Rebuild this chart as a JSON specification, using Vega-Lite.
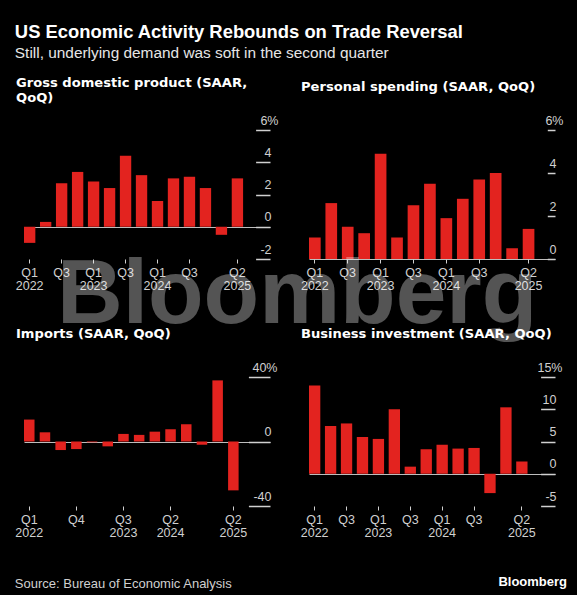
{
  "$schema": "https://vega.github.io/schema/vega-lite/v6.json",
  "background": "#000000",
  "padding": {"left": 14, "top": 23, "right": 10, "bottom": 4},
  "title": {
    "text": "US Economic Activity Rebounds on Trade Reversal",
    "subtitle": "Still, underlying demand was soft in the second quarter",
    "anchor": "start",
    "frame": "bounds",
    "font": "Liberation Sans",
    "fontSize": 18.4,
    "fontWeight": "bold",
    "color": "#ffffff",
    "subtitleFont": "Liberation Sans",
    "subtitleFontSize": 15.4,
    "subtitleColor": "#e6e6e6",
    "subtitlePadding": 4,
    "offset": 16,
    "dx": 0
  },
  "datasets": {
    "gdp": [
      {"q": "Q1 2022", "v": -1.0}, {"q": "Q2 2022", "v": 0.3}, {"q": "Q3 2022", "v": 2.7}, {"q": "Q4 2022", "v": 3.4},
      {"q": "Q1 2023", "v": 2.8}, {"q": "Q2 2023", "v": 2.4}, {"q": "Q3 2023", "v": 4.4}, {"q": "Q4 2023", "v": 3.2},
      {"q": "Q1 2024", "v": 1.6}, {"q": "Q2 2024", "v": 3.0}, {"q": "Q3 2024", "v": 3.1}, {"q": "Q4 2024", "v": 2.4},
      {"q": "Q1 2025", "v": -0.5}, {"q": "Q2 2025", "v": 3.0}
    ],
    "pce": [
      {"q": "Q1 2022", "v": 1.0}, {"q": "Q2 2022", "v": 2.6}, {"q": "Q3 2022", "v": 1.5}, {"q": "Q4 2022", "v": 1.2},
      {"q": "Q1 2023", "v": 4.9}, {"q": "Q2 2023", "v": 1.0}, {"q": "Q3 2023", "v": 2.5}, {"q": "Q4 2023", "v": 3.5},
      {"q": "Q1 2024", "v": 1.9}, {"q": "Q2 2024", "v": 2.8}, {"q": "Q3 2024", "v": 3.7}, {"q": "Q4 2024", "v": 4.0},
      {"q": "Q1 2025", "v": 0.5}, {"q": "Q2 2025", "v": 1.4}
    ],
    "imp": [
      {"q": "Q1 2022", "v": 13.6}, {"q": "Q2 2022", "v": 5.7}, {"q": "Q3 2022", "v": -5.3}, {"q": "Q4 2022", "v": -4.7},
      {"q": "Q1 2023", "v": -0.5}, {"q": "Q2 2023", "v": -3.0}, {"q": "Q3 2023", "v": 4.7}, {"q": "Q4 2023", "v": 4.1},
      {"q": "Q1 2024", "v": 6.1}, {"q": "Q2 2024", "v": 7.6}, {"q": "Q3 2024", "v": 10.7}, {"q": "Q4 2024", "v": -2.0},
      {"q": "Q1 2025", "v": 37.9}, {"q": "Q2 2025", "v": -30.3}
    ],
    "bi": [
      {"q": "Q1 2022", "v": 13.7}, {"q": "Q2 2022", "v": 7.4}, {"q": "Q3 2022", "v": 7.8}, {"q": "Q4 2022", "v": 5.7},
      {"q": "Q1 2023", "v": 5.4}, {"q": "Q2 2023", "v": 10.0}, {"q": "Q3 2023", "v": 1.1}, {"q": "Q4 2023", "v": 3.8},
      {"q": "Q1 2024", "v": 4.5}, {"q": "Q2 2024", "v": 3.9}, {"q": "Q3 2024", "v": 4.0}, {"q": "Q4 2024", "v": -3.0},
      {"q": "Q1 2025", "v": 10.3}, {"q": "Q2 2025", "v": 1.9}
    ]
  },
  "vconcat": [
    {
      "title": {"text": "Bloomberg", "orient": "bottom", "anchor": "end", "frame": "bounds", "font": "Liberation Sans", "fontSize": 13, "fontWeight": "bold", "color": "#ffffff", "offset": -15, "dx": 4},
      "vconcat": [
        {
          "title": {"text": "Source: Bureau of Economic Analysis", "orient": "bottom", "anchor": "start", "frame": "bounds", "font": "Liberation Sans", "fontSize": 13, "fontWeight": "normal", "color": "#d0d0d0", "offset": 39, "dx": 0},
          "vconcat": [
            {
              "title": {"text": "Bloomberg", "orient": "bottom", "anchor": "start", "frame": "group", "font": "Liberation Sans", "fontSize": 91, "fontWeight": "bold", "color": "rgba(255,255,255,0.33)", "offset": -288, "dx": 33},
              "bounds": "flush",
              "columns": 2,
              "spacing": {"row": 118, "column": 39},
              "concat": [
                {
                  "title": {"text": ["Gross domestic product (SAAR,", "QoQ)"], "offset": 9},
                  "width": 246,
                  "height": 129,
                  "data": {"name": "gdp"},
                  "mark": {"type": "bar", "color": "#e3231f"},
                  "encoding": {
                    "x": {"field": "q", "type": "ordinal", "sort": null,
                      "scale": {"paddingInner": 0.29, "paddingOuter": 0.842, "align": 0},
                      "axis": {"values": ["Q1 2022", "Q3 2022", "Q1 2023", "Q3 2023", "Q1 2024", "Q3 2024", "Q2 2025"],
                        "labelExpr": "split(datum.value, ' ')[0] == 'Q3' ? 'Q3' : split(datum.value, ' ')"}},
                    "y": {"field": "v", "type": "quantitative",
                      "scale": {"domain": [-2, 6], "nice": false, "zero": false},
                      "axis": {"orient": "right", "values": [-2, 0, 2, 4, 6], "offset": -14.4, "tickSize": 14.4, "labelOverlap": false, "labelFlush": false,
                        "labelPadding": {"condition": {"test": "datum.value == 6", "value": 8}, "value": 1},
                        "labelExpr": "datum.value == 6 ? '6%' : toString(datum.value)"}}
                  }
                },
                {
                  "title": {"text": "Personal spending (SAAR, QoQ)", "offset": 20},
                  "width": 246,
                  "height": 129,
                  "data": {"name": "pce"},
                  "mark": {"type": "bar", "color": "#e3231f"},
                  "encoding": {
                    "x": {"field": "q", "type": "ordinal", "sort": null,
                      "scale": {"paddingInner": 0.29, "paddingOuter": 0.627, "align": 0},
                      "axis": {"values": ["Q1 2022", "Q3 2022", "Q1 2023", "Q3 2023", "Q1 2024", "Q3 2024", "Q2 2025"],
                        "labelExpr": "split(datum.value, ' ')[0] == 'Q3' ? 'Q3' : split(datum.value, ' ')"}},
                    "y": {"field": "v", "type": "quantitative",
                      "scale": {"domain": [0, 6], "nice": false, "zero": false},
                      "axis": {"orient": "right", "values": [0, 2, 4, 6], "offset": -7.7, "tickSize": 7.7, "labelOverlap": false, "labelFlush": false,
                        "labelPadding": {"condition": {"test": "datum.value == 6", "value": 8}, "value": 1},
                        "labelExpr": "datum.value == 6 ? '6%' : toString(datum.value)"}}
                  }
                },
                {
                  "title": {"text": "Imports (SAAR, QoQ)", "offset": 20},
                  "width": 246,
                  "height": 129,
                  "data": {"name": "imp"},
                  "mark": {"type": "bar", "color": "#e3231f"},
                  "encoding": {
                    "x": {"field": "q", "type": "ordinal", "sort": null,
                      "scale": {"paddingInner": 0.33, "paddingOuter": 1.152, "align": 0},
                      "axis": {"values": ["Q1 2022", "Q4 2022", "Q3 2023", "Q2 2024", "Q2 2025"],
                        "labelExpr": "split(datum.value, ' ')[0] == 'Q4' ? 'Q4' : split(datum.value, ' ')"}},
                    "y": {"field": "v", "type": "quantitative",
                      "scale": {"domain": [-40, 40], "nice": false, "zero": false},
                      "axis": {"orient": "right", "values": [-40, 0, 40], "offset": -21.6, "tickSize": 21.6, "labelOverlap": false, "labelFlush": false,
                        "labelPadding": {"condition": {"test": "datum.value == 40", "value": 7}, "value": 1},
                        "labelExpr": "datum.value == 40 ? '40%' : toString(datum.value)"}}
                  }
                },
                {
                  "title": {"text": "Business investment (SAAR, QoQ)", "offset": 20},
                  "width": 246,
                  "height": 129,
                  "data": {"name": "bi"},
                  "mark": {"type": "bar", "color": "#e3231f"},
                  "encoding": {
                    "x": {"field": "q", "type": "ordinal", "sort": null,
                      "scale": {"paddingInner": 0.29, "paddingOuter": 0.862, "align": 0},
                      "axis": {"values": ["Q1 2022", "Q3 2022", "Q1 2023", "Q3 2023", "Q1 2024", "Q3 2024", "Q2 2025"],
                        "labelExpr": "split(datum.value, ' ')[0] == 'Q3' ? 'Q3' : split(datum.value, ' ')"}},
                    "y": {"field": "v", "type": "quantitative",
                      "scale": {"domain": [-5, 15], "nice": false, "zero": false},
                      "axis": {"orient": "right", "values": [-5, 0, 5, 10, 15], "offset": -14.4, "tickSize": 14.4, "labelOverlap": false, "labelFlush": false,
                        "labelPadding": {"condition": {"test": "datum.value == 15", "value": 7}, "value": 1},
                        "labelExpr": "datum.value == 15 ? '15%' : toString(datum.value)"}}
                  }
                }
              ]
            }
          ]
        }
      ]
    }
  ],
  "config": {
    "view": {"stroke": null},
    "title": {"font": "DejaVu Sans", "fontSize": 13.1, "fontWeight": "bold", "color": "#ffffff", "anchor": "start", "frame": "group", "dx": -8, "lineHeight": 15},
    "axis": {
      "domain": false, "title": null,
      "labelColor": "#d0d0d0", "labelFont": "Liberation Sans", "labelFontSize": 12.5,
      "tickColor": "#d0d0d0", "labelOverlap": false
    },
    "axisX": {"grid": false, "tickSize": 4, "tickWidth": 1, "labelPadding": 3, "labelAngle": 0, "labelLineHeight": 13, "labelFlush": false},
    "axisY": {"grid": true, "gridWidth": 1, "gridColor": {"condition": {"test": "datum.value == 0", "value": "#bdbdbd"}, "value": "rgba(0,0,0,0)"},
      "tickWidth": 1.5, "labelAlign": "right", "labelBaseline": "alphabetic", "labelOffset": -6, "labelOverlap": false, "labelFlush": false}
  }
}
